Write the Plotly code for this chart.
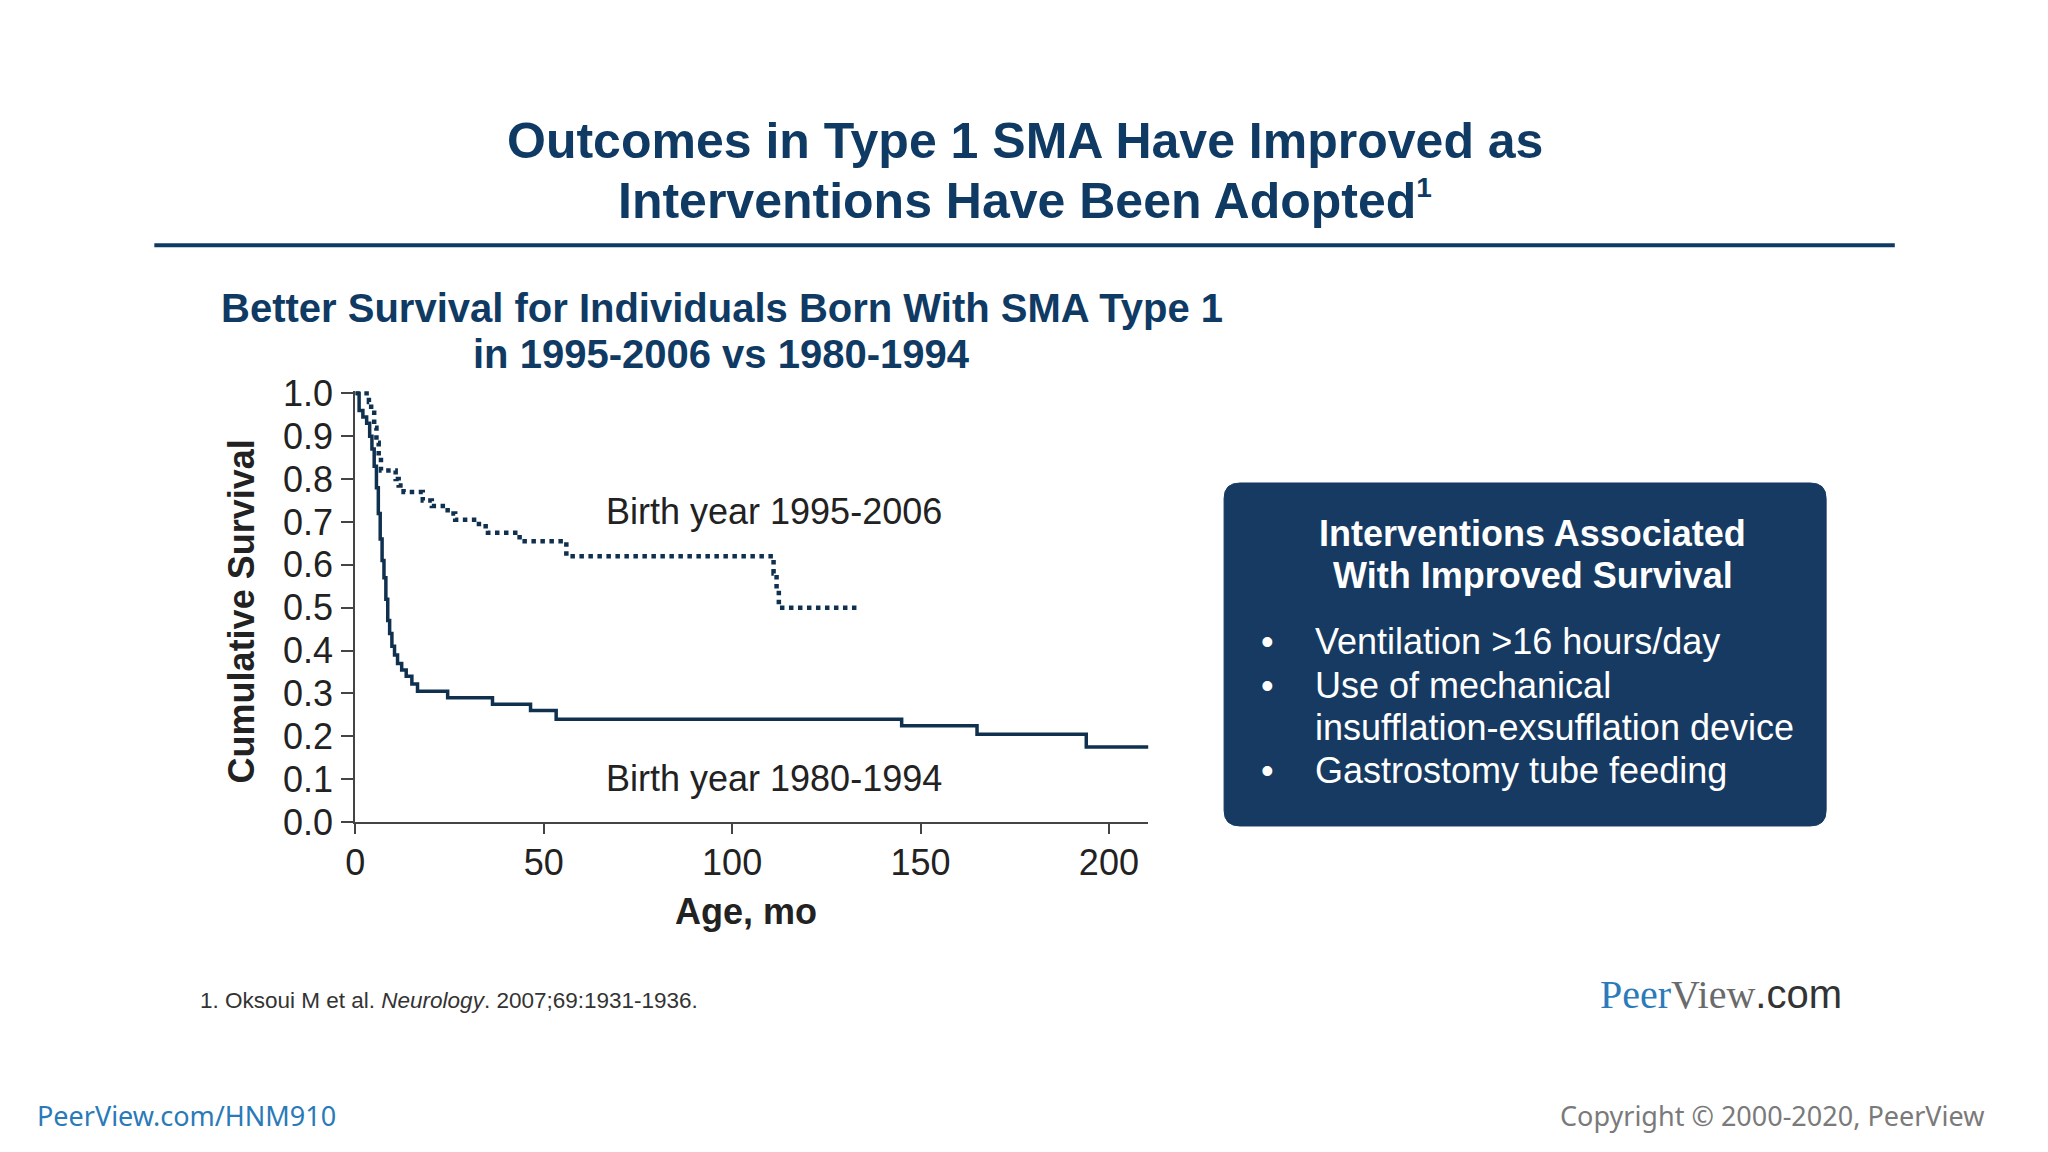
import plotly.graph_objects as go

# ---------------- data ----------------
late_months = [0, 3.6, 4.2, 5.0, 5.6, 6.2, 6.8, 10.7, 11.5, 12.8, 17.9, 20.3, 24.5, 26.5,
               32.8, 35.2, 43.6, 56.0, 111.0, 111.8, 112.4, 133.0]
late_surv = [1.0, 0.98, 0.955, 0.92, 0.885, 0.85, 0.82, 0.80, 0.785, 0.77, 0.75, 0.737, 0.72, 0.705,
             0.69, 0.675, 0.655, 0.62, 0.58, 0.54, 0.5, 0.5]

early_months = [0, 1.0, 2.0, 3.0, 3.8, 4.4, 5.0, 5.6, 6.1, 6.6, 7.1, 7.6, 8.1, 8.6, 9.1, 9.7,
                10.4, 11.2, 12.3, 13.5, 15.0, 16.5, 24.5, 36.4, 46.5, 53.3, 145.0, 165.0, 194.0, 210.5]
early_surv = [1.0, 0.96, 0.945, 0.93, 0.90, 0.87, 0.83, 0.78, 0.72, 0.66, 0.61, 0.57, 0.52, 0.47, 0.44, 0.41,
              0.39, 0.37, 0.355, 0.34, 0.322, 0.305, 0.29, 0.275, 0.26, 0.24, 0.225, 0.205, 0.175, 0.175]

x_ticks = [0, 50, 100, 150, 200]
y_ticks = [0.0, 0.1, 0.2, 0.3, 0.4, 0.5, 0.6, 0.7, 0.8, 0.9, 1.0]
y_tick_labels = ["0.0", "0.1", "0.2", "0.3", "0.4", "0.5", "0.6", "0.7", "0.8", "0.9", "1.0"]

bullets = ["Ventilation >16 hours/day", "Use of mechanical",
           "insufflation-exsufflation device", "Gastrostomy tube feeding"]
bullet_marks = [True, True, False, True]

# ---------------- layout helpers ----------------
W, H = 2048, 1152
NAVY = "#0f3a63"
LINE = "#10304f"
FONT = "Liberation Sans, Arial, sans-serif"


def px(x):
    return x / W


def py(y):
    return 1 - y / H


fig = go.Figure()
fig.add_trace(go.Scatter(x=late_months, y=late_surv, mode="lines", line_shape="hv",
                         line=dict(color=LINE, width=4.5, dash="dot"), showlegend=False,
                         hoverinfo="skip"))
fig.add_trace(go.Scatter(x=early_months, y=early_surv, mode="lines", line_shape="hv",
                         line=dict(color=LINE, width=3.5), showlegend=False,
                         hoverinfo="skip"))

ann = []


def text(x, y, s, size, color="#222", bold=False, xanchor="center", family=FONT, angle=0):
    if bold:
        s = "<b>" + s + "</b>"
    ann.append(dict(x=px(x), y=py(y), xref="paper", yref="paper", text=s, showarrow=False,
                    xanchor=xanchor, yanchor="middle", textangle=angle,
                    font=dict(size=size, color=color, family=family)))


# main title
text(1012, 119, "Outcomes in Type 1 SMA Have Improved as", 50, NAVY, True)
text(1012, 181, "Interventions Have Been Adopted<sup><span style='font-size:28px'>1</span></sup>",
     50, NAVY, True)
# subtitle
text(707, 292, "Better Survival for Individuals Born With SMA Type 1", 40, NAVY, True)
text(707, 340, "in 1995-2006 vs 1980-1994", 40, NAVY, True)
# axis titles
text(225, 606, "Cumulative Survival", 36, "#222", True, angle=-90)
text(732, 917, "Age, mo", 36, "#222", True)
# curve labels
text(589, 503, "Birth year 1995-2006", 36, "#222", xanchor="left")
text(589, 779, "Birth year 1980-1994", 36, "#222", xanchor="left")
# box contents
text(1522, 525, "Interventions Associated", 36, "white", True)
text(1522, 569, "With Improved Survival", 36, "white", True)
line_y = [637, 683, 726, 771]
for s, mark, yy in zip(bullets, bullet_marks, line_y):
    if mark:
        text(1256, yy, "•", 36, "white")
    text(1301, yy, s, 36, "white", xanchor="left")
# reference
text(181, 1009, "1. Oksoui M et al. <i>Neurology</i>. 2007;69:1931-1936.", 22.5, "#333", xanchor="left")
# logo
text(1588, 1002, "<span style='color:#2b7bbb'>Peer</span><span style='color:#6a6a6a'>View</span>"
     "<span style='font-family:Liberation Sans, Arial, sans-serif;color:#333'>.com</span>",
     40, "#333", xanchor="left", family="Liberation Serif, Times New Roman, serif")
# footer
text(17, 1128, "PeerView.com/HNM910", 27, "#2a7ab8", xanchor="left", family="Noto Sans, sans-serif")
text(1978, 1128, "Copyright © 2000-2020, PeerView", 27, "#7a7a7a", xanchor="right",
     family="Noto Sans, sans-serif")

# shapes: rule and box
r = 16
x0, x1, y0, y1 = px(1212), px(1817), py(828), py(473)
rx, ry = r / W, r / H
path = (f"M {x0+rx},{y1} L {x1-rx},{y1} Q {x1},{y1} {x1},{y1-ry} L {x1},{y0+ry} "
        f"Q {x1},{y0} {x1-rx},{y0} L {x0+rx},{y0} Q {x0},{y0} {x0},{y0+ry} "
        f"L {x0},{y1-ry} Q {x0},{y1} {x0+rx},{y1} Z")
shapes = [
    dict(type="line", xref="paper", yref="paper", x0=px(137), x1=px(1886), y0=py(227), y1=py(227),
         line=dict(color=NAVY, width=4)),
    dict(type="path", xref="paper", yref="paper", path=path, fillcolor="#163a62",
         line=dict(color="#163a62", width=1), layer="below"),
]

fig.update_layout(
    width=W, height=H, margin=dict(l=0, r=0, t=0, b=0),
    paper_bgcolor="white", plot_bgcolor="white",
    annotations=ann, shapes=shapes,
    xaxis=dict(domain=[px(339), px(1136)], range=[0, 210.5], tickvals=x_ticks,
               showgrid=False, zeroline=False, showline=True, linecolor="#444", linewidth=2,
               ticks="outside", ticklen=10, tickwidth=2, tickcolor="#444",
               tickfont=dict(size=36, color="#222", family=FONT), ticklabelstandoff=-2),
    yaxis=dict(domain=[py(824), py(378)], range=[0, 1.005], tickvals=y_ticks, ticktext=y_tick_labels,
               showgrid=False, zeroline=False, showline=True, linecolor="#444", linewidth=2,
               ticks="outside", ticklen=12, tickwidth=2, tickcolor="#444",
               tickfont=dict(size=36, color="#222", family=FONT), ticklabelstandoff=1),
)

fig.write_html("out.html", config={"displayModeBar": False})
